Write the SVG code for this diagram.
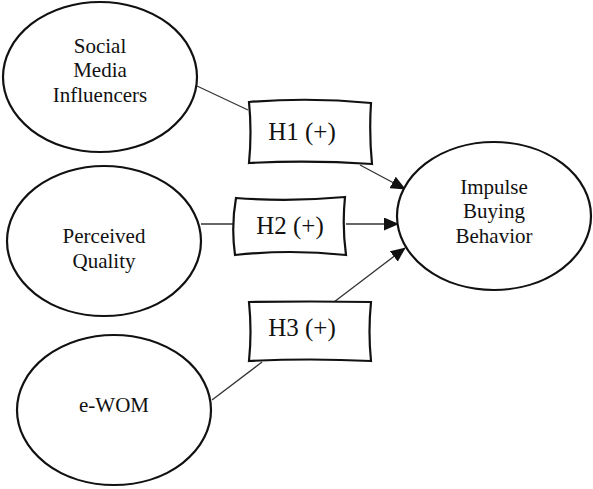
<svg xmlns="http://www.w3.org/2000/svg" width="593" height="489" viewBox="0 0 593 489">
<style>
.node ellipse{fill:#fff;stroke:#111;stroke-width:2.2}
.box{fill:#fff;stroke:#111;stroke-width:2.2}
.t{font-family:"Liberation Serif","Times New Roman",serif;font-size:21px;fill:#111;text-anchor:middle}
.h{font-family:"Liberation Serif","Times New Roman",serif;font-size:25px;fill:#111;text-anchor:middle}
.c{stroke:#333;stroke-width:1.3;fill:none}
</style>
<defs>
<marker id="ah" markerWidth="15" markerHeight="13" refX="14" refY="6.5" orient="auto" markerUnits="userSpaceOnUse">
<path d="M0,0 L15,6.5 L0,13 Z" fill="#111"/>
</marker>
</defs>
<rect width="593" height="489" fill="#fff"/>
<g id="connectors">
<line class="c" x1="197" y1="86" x2="248" y2="110"/>
<line class="c" x1="360" y1="165" x2="405" y2="189" marker-end="url(#ah)"/>
<line class="c" x1="201" y1="224" x2="234" y2="224"/>
<line class="c" x1="346" y1="224" x2="398" y2="224" marker-end="url(#ah)"/>
<line class="c" x1="212" y1="400" x2="262" y2="362"/>
<line class="c" x1="334" y1="302" x2="405" y2="248" marker-end="url(#ah)"/>
</g>
<g id="smi" class="node">
<ellipse cx="100" cy="77" rx="97" ry="75"/>
<text class="t" x="100" y="53">Social</text>
<text class="t" x="100" y="77">Media</text>
<text class="t" x="100" y="102">Influencers</text>
</g>
<g id="pq" class="node">
<ellipse cx="104" cy="241" rx="97" ry="75"/>
<text class="t" x="104" y="243">Perceived</text>
<text class="t" x="104" y="268">Quality</text>
</g>
<g id="ewom" class="node">
<ellipse cx="114" cy="410" rx="97" ry="75"/>
<text class="t" x="114" y="412">e-WOM</text>
</g>
<g id="ibb" class="node">
<ellipse cx="494" cy="216" rx="97" ry="74"/>
<text class="t" x="494" y="194">Impulse</text>
<text class="t" x="494" y="218">Buying</text>
<text class="t" x="494" y="243">Behavior</text>
</g>
<g id="h1">
<path class="box" d="M249,102 Q310,97 371,103 Q369,133 372,164 Q310,160 249,163 Q252,132 249,102 Z"/>
<text class="h" x="302" y="140">H1 (+)</text>
</g>
<g id="h2">
<path class="box" d="M236,198 Q290,202 345,197 Q342,226 346,255 Q290,249 235,255 Q231,226 236,198 Z"/>
<text class="h" x="290" y="234">H2 (+)</text>
</g>
<g id="h3">
<path class="box" d="M249,302 Q310,301 371,302 Q368,332 371,361 Q310,358 249,361 Q252,332 249,302 Z"/>
<text class="h" x="302" y="336">H3 (+)</text>
</g>
</svg>
